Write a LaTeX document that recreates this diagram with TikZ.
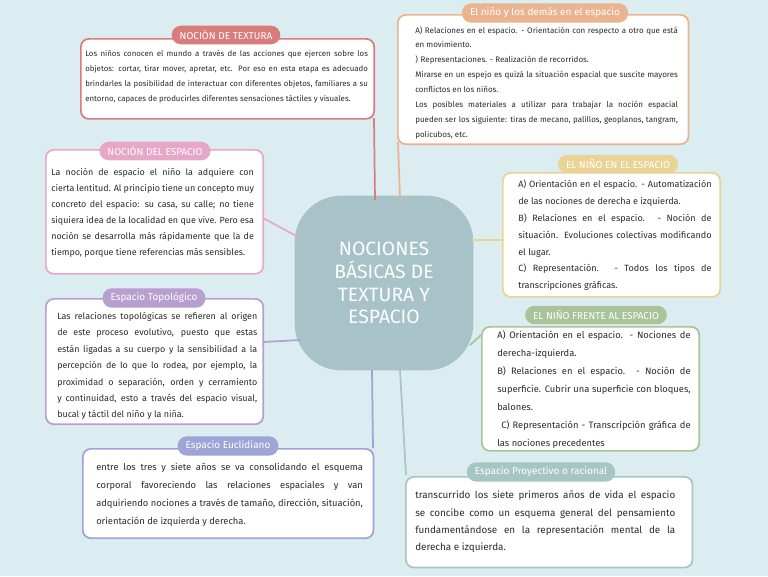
\documentclass[tikz,border=0pt]{standalone}
\usepackage{fontspec}
\setmainfont{Fira Sans}
\usetikzlibrary{calc}
\definecolor{bg}{HTML}{DCEDF1}
\definecolor{cen}{HTML}{A7C3C7}
\definecolor{cA}{HTML}{D97C7C}
\definecolor{cB}{HTML}{E6A8C6}
\definecolor{cC}{HTML}{B79FD0}
\definecolor{cD}{HTML}{9EA4D6}
\definecolor{cE}{HTML}{E9B48F}
\definecolor{cF}{HTML}{EBD395}
\definecolor{cG}{HTML}{A9C49B}
\definecolor{cH}{HTML}{A6C6C2}
\definecolor{txt}{HTML}{2B2B2B}
\hyphenpenalty=10000 \exhyphenpenalty=10000 \emergencystretch=20pt
\tikzset{
 box/.style={draw=#1, line width=1.3pt, fill=white, rounded corners=6pt, anchor=north west, inner sep=0pt},
 body/.style={anchor=north west, align=justify, text=txt, inner sep=0pt},
 ttl/.style={fill=#1, rounded corners=7pt, text=white, font=\fontsize{7.5}{8}\selectfont, inner ysep=3.5pt, inner xsep=6pt},
 lnk/.style={draw=#1, line width=1.3pt}
}
\begin{document}
\begin{tikzpicture}[x=0.75pt,y=-0.75pt]
\fill[bg] (0,0) rectangle (768,576);
\useasboundingbox (0,0) rectangle (768,576);
\coordinate (p1) at (374,118); \coordinate (p2) at (263,218); \coordinate (p3) at (263,342);
\coordinate (p4) at (373,448); \coordinate (p5) at (398,142); \coordinate (p6) at (502,240);
\coordinate (p7) at (481,335); \coordinate (p8) at (406,475);
\node[fill=cen, rounded corners=35pt, minimum width=134pt, minimum height=131pt] (c) at (384,283) {};
\draw[lnk=cA] (p1) -- (375,200);
\draw[lnk=cB] (p2) -- (300,238);
\draw[lnk=cC] (p3) -- (300,340);
\draw[lnk=cD] (p4) -- (372,370);
\draw[lnk=cE] (p5) -- (400,198);
\draw[lnk=cF] (p6) -- (472,240);
\draw[lnk=cG] (p7) -- (470,345);
\draw[lnk=cH] (p8) -- (400,370);
\node[text=white, align=center, font=\fontsize{14.5}{17}\selectfont] (ct) at (c.center) {NOCIONES\\BÁSICAS DE\\TEXTURA Y\\ESPACIO};

\node[box=cA, minimum width=220pt, minimum height=60pt] (b1) at (80,38) {};
\node[body, text width=212pt, font=\fontsize{5.9}{11.2}\selectfont] (t1) at (85,50) {Los niños conocen el mundo a través de las acciones que ejercen sobre los objetos: cortar, tirar mover, apretar, etc. Por eso en esta etapa es adecuado brindarles la posibilidad de interactuar con diferentes objetos, familiares a su entorno, capaces de producirles diferentes sensaciones táctiles y visuales.};
\node[ttl=cA] (h1) at (226,35) {NOCIÓN DE TEXTURA};

\node[box=cB, minimum width=163pt, minimum height=93pt] (b2) at (45,149) {};
\node[body, text width=152pt, font=\fontsize{6.7}{12}\selectfont] (t2) at (51,168) {La noción de espacio el niño la adquiere con cierta lentitud. Al principio tiene un concepto muy concreto del espacio: su casa, su calle; no tiene siquiera idea de la localidad en que vive. Pero esa noción se desarrolla más rápidamente que la de tiempo, porque tiene referencias más sensibles.};
\node[ttl=cB] (h2) at (155,151) {NOCIÓN DEL ESPACIO};

\node[box=cC, minimum width=163pt, minimum height=94pt] (b3) at (45,298) {};
\node[body, text width=150pt, font=\fontsize{6.7}{12.3}\selectfont] (t3) at (57,312) {Las relaciones topológicas se refieren al origen de este proceso evolutivo, puesto que estas están ligadas a su cuerpo y la sensibilidad a la percepción de lo que lo rodea, por ejemplo, la proximidad o separación, orden y cerramiento y continuidad, esto a través del espacio visual, bucal y táctil del niño y la niña.};
\node[ttl=cC] (h3) at (154,298) {Espacio Topológico};

\node[box=cD, minimum width=218pt, minimum height=67pt] (b4) at (82,448) {};
\node[body, text width=200pt, font=\fontsize{7}{13.5}\selectfont] (t4) at (96,463) {entre los tres y siete años se va consolidando el esquema corporal favoreciendo las relaciones espaciales y van adquiriendo nociones a través de tamaño, dirección, situación, orientación de izquierda y derecha.};
\node[ttl=cD] (h4) at (228,446) {Espacio Euclidiano};

\node[box=cE, minimum width=218pt, minimum height=97pt] (b5) at (397,14) {};
\node[body, text width=197pt, font=\fontsize{6}{11.2}\selectfont] (t5) at (415,26) {A) Relaciones en el espacio. - Orientación con respecto a otro que está en movimiento.\\
) Representaciones. - Realización de recorridos.\\
Mirarse en un espejo es quizá la situación espacial que suscite mayores conflictos en los niños.\\
Los posibles materiales a utilizar para trabajar la noción espacial pueden ser los siguiente: tiras de mecano, palillos, geoplanos, tangram, policubos, etc.};
\node[ttl=cE] (h5) at (545,13) {El niño y los demás en el espacio};

\node[box=cF, minimum width=163pt, minimum height=93pt] (b6) at (502,172) {};
\node[body, text width=145pt, font=\fontsize{6.8}{12.6}\selectfont] (t6) at (518,180) {A) Orientación en el espacio. - Automatización de las nociones de derecha e izquierda.\\
B) Relaciones en el espacio. - Noción de situación. Evoluciones colectivas modificando el lugar.\\
C) Representación. - Todos los tipos de transcripciones gráficas.};
\node[ttl=cF] (h6) at (618,164) {EL NIÑO EN EL ESPACIO};

\node[box=cG, minimum width=163pt, minimum height=93pt] (b7) at (481,326) {};
\node[body, text width=145pt, font=\fontsize{7}{13.5}\selectfont] (t7) at (497,330) {A) Orientación en el espacio. - Nociones de derecha-izquierda.\\
B) Relaciones en el espacio. - Noción de superficie. Cubrir una superficie con bloques, balones.\\
\hspace*{3pt}C) Representación - Transcripción gráfica de las nociones precedentes};
\node[ttl=cG] (h7) at (596,315) {EL NIÑO FRENTE AL ESPACIO};

\node[box=cH, minimum width=215pt, minimum height=68pt] (b8) at (405,476) {};
\node[body, text width=195pt, font=\fontsize{7.4}{13}\selectfont] (t8) at (415,491) {transcurrido los siete primeros años de vida el espacio se concibe como un esquema general del pensamiento fundamentándose en la representación mental de la derecha e izquierda.};
\node[ttl=cH] (h8) at (541,472) {Espacio Proyectivo o racional};
\end{tikzpicture}
\end{document}
